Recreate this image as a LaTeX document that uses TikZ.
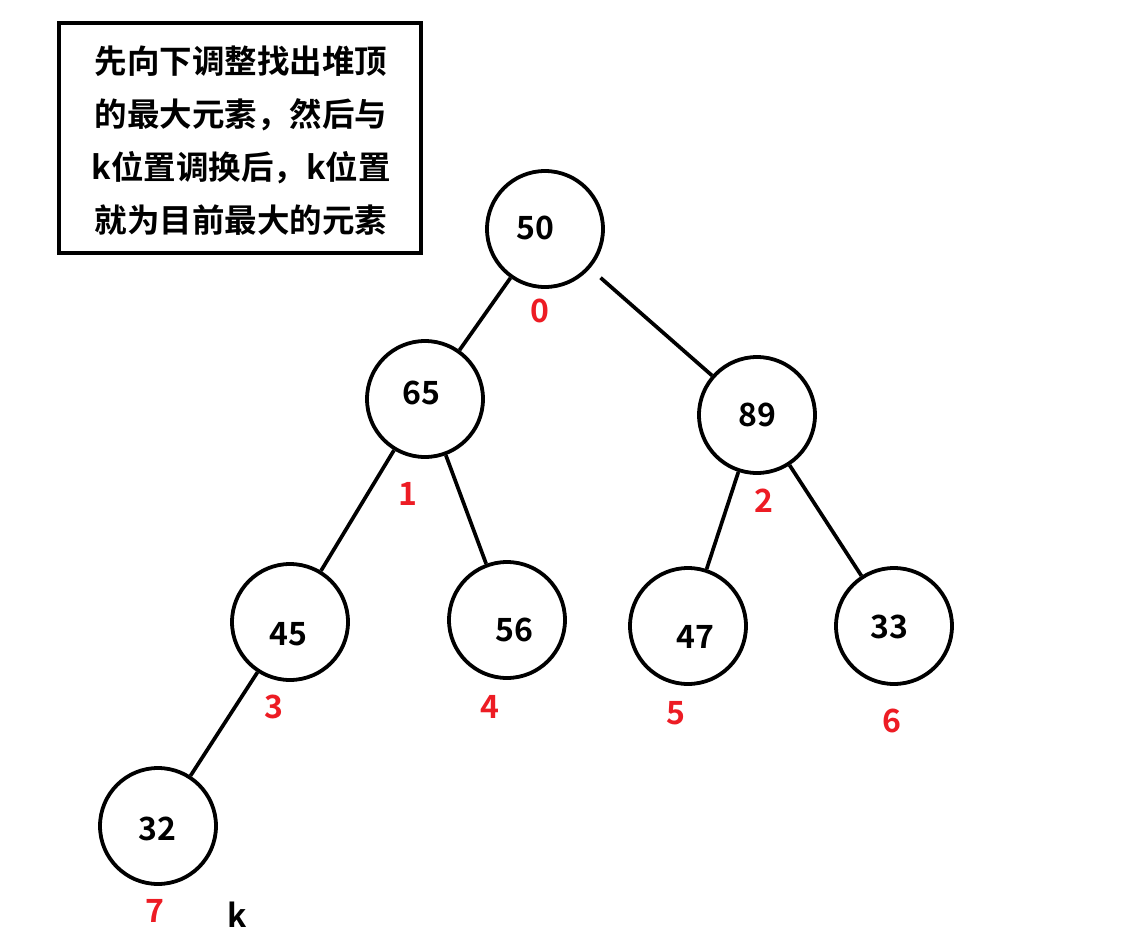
\documentclass[tikz,border=0pt]{standalone}
\usepackage{fontspec}
\setmainfont{Noto Sans CJK SC}[BoldFont={Noto Sans CJK SC Bold}]
\definecolor{idxred}{RGB}{237,28,36}
\begin{document}
\begin{tikzpicture}[x=1pt,y=-1pt,
  heapnode/.style={circle,draw=black,line width=3.8pt,minimum size=116pt,inner sep=0pt},
  numtxt/.style={font=\fontsize{32}{32}\selectfont\bfseries,inner sep=0pt},
  idxtxt/.style={font=\fontsize{32}{32}\selectfont\bfseries,text=idxred,inner sep=0pt},
  edge/.style={line width=3.7pt}]
\useasboundingbox[fill=white] (0,0) rectangle (1148,945);
% note box
\draw[line width=4pt] (59,23) rectangle (421,253);
\node[font=\fontsize{32.5}{53}\selectfont\bfseries,align=center,inner sep=0pt] (note) at (241,141)
  {先向下调整找出堆顶\\的最大元素，然后与\\k位置调换后，k位置\\就为目前最大的元素};
% circles
\node[heapnode] (n0) at (545,229) {};
\node[heapnode] (n1) at (425,399) {};
\node[heapnode] (n2) at (757,415) {};
\node[heapnode] (n3) at (290,622) {};
\node[heapnode] (n4) at (507,620) {};
\node[heapnode] (n5) at (688,626) {};
\node[heapnode] (n6) at (894,626) {};
\node[heapnode] (n7) at (158,826) {};
% values
\node[numtxt] (v0) at (535,228) {50};
\node[numtxt] (v1) at (421,393) {65};
\node[numtxt] (v2) at (757,415) {89};
\node[numtxt] (v3) at (288,634) {45};
\node[numtxt] (v4) at (514,630) {56};
\node[numtxt] (v5) at (695,637) {47};
\node[numtxt] (v6) at (889,627) {33};
\node[numtxt] (v7) at (157,829) {32};
% edges
\draw[edge] (n0) -- (n1);
\draw[edge,shorten <=14pt] (n0) -- (n2);
\draw[edge] (n1) -- (n3);
\draw[edge] (n1) -- (n4);
\draw[edge] (n2) -- (n5);
\draw[edge] (n2) -- (n6);
\draw[edge] (n3) -- (n7);
% indices
\node[idxtxt] (i0) at (540,311) {0};
\node[idxtxt] (i1) at (408,494) {1};
\node[idxtxt] (i2) at (764,501) {2};
\node[idxtxt] (i3) at (274,707) {3};
\node[idxtxt] (i4) at (490,707) {4};
\node[idxtxt] (i5) at (676,713) {5};
\node[idxtxt] (i6) at (892,721) {6};
\node[idxtxt] (i7) at (155,911) {7};
\node[numtxt] (k) at (237,915) {k};
\end{tikzpicture}
\end{document}
